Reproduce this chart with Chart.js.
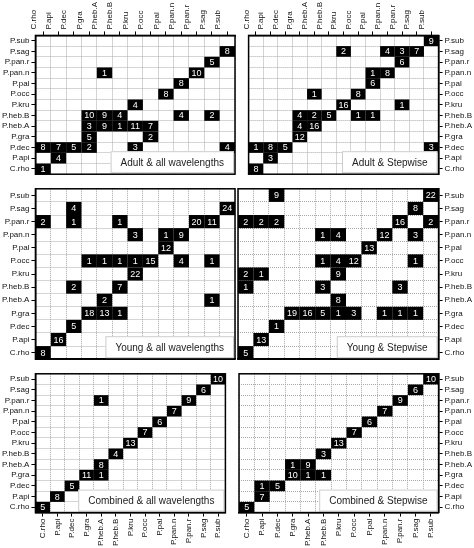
<!DOCTYPE html>
<html>
<head>
<meta charset="utf-8">
<script src="https://cdn.jsdelivr.net/npm/chart.js@4"></script>
<style>
  body { margin: 0; background: #fff; }
  .panel { position: absolute; }
</style>
</head>
<body>
<div class="panel" style="left:0;top:0;width:237px;height:181px"><canvas id="c1"></canvas></div>
<div class="panel" style="left:237px;top:0;width:237px;height:181px"><canvas id="c2"></canvas></div>
<div class="panel" style="left:0;top:182px;width:237px;height:184px"><canvas id="c3"></canvas></div>
<div class="panel" style="left:237px;top:182px;width:237px;height:184px"><canvas id="c4"></canvas></div>
<div class="panel" style="left:0;top:367px;width:237px;height:181px"><canvas id="c5"></canvas></div>
<div class="panel" style="left:237px;top:367px;width:237px;height:181px"><canvas id="c6"></canvas></div>
<script>
const species = ['C.rho', 'P.api', 'P.dec', 'P.gra', 'P.heb.A', 'P.heb.B', 'P.kru', 'P.occ', 'P.pal', 'P.pan.n', 'P.pan.r', 'P.sag', 'P.sub'];

// [row (predicted), column (actual), count]
const adultAll = [
  [11,12,8], [10,11,5], [9,4,1], [9,10,10], [8,9,8], [7,8,8], [6,6,4],
  [5,3,10], [5,4,9], [5,5,4], [5,9,4], [5,11,2],
  [4,3,3], [4,4,9], [4,5,1], [4,6,11], [4,7,7],
  [3,3,5], [3,7,2],
  [2,0,8], [2,1,7], [2,2,5], [2,3,2], [2,6,3], [2,12,4],
  [1,1,4], [0,0,1]
];
const adultStep = [
  [12,12,9], [11,6,2], [11,9,4], [11,10,3], [11,11,7], [10,10,6],
  [9,8,1], [9,9,8], [8,8,6], [7,4,1], [7,7,8], [6,6,16], [6,10,1],
  [5,3,4], [5,4,2], [5,5,5], [5,7,1], [5,8,1],
  [4,3,4], [4,4,16], [3,3,12],
  [2,0,1], [2,1,8], [2,2,5], [2,12,3],
  [1,1,3], [0,0,8]
];
const youngAll = [
  [11,2,4], [11,12,24],
  [10,0,2], [10,2,1], [10,5,1], [10,10,20], [10,11,11],
  [9,6,3], [9,8,1], [9,9,9], [8,8,12],
  [7,3,1], [7,4,1], [7,5,1], [7,6,1], [7,7,15], [7,9,4], [7,11,1],
  [6,6,22], [5,2,2], [5,5,7], [4,4,2], [4,11,1],
  [3,3,18], [3,4,13], [3,5,1],
  [2,2,5], [1,1,16], [0,0,8]
];
const youngStep = [
  [12,2,9], [12,12,22], [11,11,8],
  [10,0,2], [10,1,2], [10,2,2], [10,10,16], [10,12,2],
  [9,5,1], [9,6,4], [9,9,12], [9,11,3], [8,8,13],
  [7,5,1], [7,6,4], [7,7,12], [7,11,1],
  [6,0,2], [6,1,1], [6,6,9],
  [5,0,1], [5,5,3], [5,10,3], [4,6,8],
  [3,3,19], [3,4,16], [3,5,5], [3,6,1], [3,7,3], [3,9,1], [3,10,1], [3,11,1],
  [2,2,1], [1,1,13], [0,0,5]
];
const combinedAll = [
  [12,12,10], [11,11,6], [10,4,1], [10,10,9], [9,9,7], [8,8,6], [7,7,7],
  [6,6,13], [5,5,4], [4,4,8], [3,3,11], [3,4,1], [2,2,5], [1,1,8], [0,0,5]
];
const combinedStep = [
  [12,12,10], [11,11,6], [10,10,9], [9,9,7], [8,8,6], [7,7,7], [6,6,13],
  [5,5,3], [4,3,1], [4,4,9], [3,3,10], [3,4,1], [3,5,1], [2,1,1], [2,2,5],
  [1,1,7], [0,0,5]
];

Chart.defaults.font.family = "'Liberation Sans', Arial, sans-serif";
Chart.defaults.color = '#111';

const cellPlugin = {
  id: 'cells',
  afterDatasetsDraw(chart) {
    const ctx = chart.ctx, xs = chart.scales.x, ys = chart.scales.y, a = chart.chartArea;
    ctx.save();
    ctx.font = "9px 'Liberation Sans', Arial";
    ctx.textAlign = 'center';
    ctx.textBaseline = 'middle';
    chart.data.datasets[0].data.forEach(p => {
      const x0 = xs.getPixelForValue(p.x - 0.5), x1 = xs.getPixelForValue(p.x + 0.5);
      const y0 = ys.getPixelForValue(p.y + 0.5), y1 = ys.getPixelForValue(p.y - 0.5);
      ctx.fillStyle = '#000';
      ctx.fillRect(x0, y0, x1 - x0, y1 - y0);
      ctx.fillStyle = '#fff';
      ctx.fillText(p.v, (x0 + x1) / 2, (y0 + y1) / 2 + 0.5);
    });
    // legend box
    const t = chart.options.plugins.cells.title;
    ctx.font = "10px 'Liberation Sans', Arial";
    const w = ctx.measureText(t).width + 20, h = 22;
    const bx = a.right - w - 1, by = a.bottom - h - 1;
    ctx.fillStyle = '#fff';
    ctx.fillRect(bx, by, w, h);
    ctx.strokeStyle = '#ccc';
    ctx.lineWidth = 1;
    ctx.strokeRect(bx + 0.5, by + 0.5, w - 1, h - 1);
    ctx.fillStyle = '#222';
    ctx.fillText(t, bx + w / 2, by + h / 2 + 1);
    // frame
    ctx.strokeStyle = '#000';
    ctx.lineWidth = 1.5;
    ctx.strokeRect(a.left, a.top, a.right - a.left, a.bottom - a.top);
    ctx.restore();
  }
};

function halfTicks(axis) {
  const ticks = [];
  for (let v = -0.5; v <= 12.5; v += 0.5) ticks.push({ value: v });
  axis.ticks = ticks;
}

function axisOpts(pos, showLabels, rotate) {
  return {
    type: 'linear',
    position: pos,
    min: -0.5,
    max: 12.5,
    afterBuildTicks: halfTicks,
    grid: {
      color: c => Number.isInteger(c.tick.value) ? 'rgba(0,0,0,0)' : '#aaa',
      tickColor: c => Number.isInteger(c.tick.value) ? '#000' : 'rgba(0,0,0,0)',
      drawTicks: showLabels,
      tickLength: 4
    },
    border: { color: '#000', width: 1.5, dash: [1, 1] },
    ticks: {
      display: showLabels,
      autoSkip: false,
      padding: 2,
      font: { size: 8 },
      maxRotation: rotate ? 90 : 0,
      minRotation: rotate ? 90 : 0,
      callback: v => Number.isInteger(v) ? species[v] : ''
    }
  };
}

function makePanel(id, rows, title, xPos, yPos, pad) {
  new Chart(document.getElementById(id), {
    type: 'scatter',
    data: {
      datasets: [{
        data: rows.map(r => ({ x: r[1], y: r[0], v: r[2] })),
        pointRadius: 0
      }]
    },
    options: {
      responsive: true,
      maintainAspectRatio: false,
      animation: false,
      layout: { padding: pad },
      plugins: { legend: { display: false }, tooltip: { enabled: false }, cells: { title: title } },
      scales: {
        x: axisOpts(xPos || 'bottom', !!xPos, true),
        y: axisOpts(yPos, true, false)
      }
    },
    plugins: [cellPlugin]
  });
}

makePanel('c1', adultAll, 'Adult & all wavelengths', 'top', 'left', { left: 0, right: 2, top: 0, bottom: 1 });
makePanel('c2', adultStep, 'Adult & Stepwise', 'top', 'right', { left: 1, right: 0, top: 0, bottom: 1 });
makePanel('c3', youngAll, 'Young & all wavelengths', null, 'left', { left: 0, right: 2, top: 2, bottom: 2 });
makePanel('c4', youngStep, 'Young & Stepwise', null, 'right', { left: 1, right: 0, top: 2, bottom: 2 });
makePanel('c5', combinedAll, 'Combined & all wavelengths', 'bottom', 'left', { left: 0, right: 2, top: 2, bottom: 0 });
makePanel('c6', combinedStep, 'Combined & Stepwise', 'bottom', 'right', { left: 1, right: 0, top: 2, bottom: 0 });
</script>
</body>
</html>
